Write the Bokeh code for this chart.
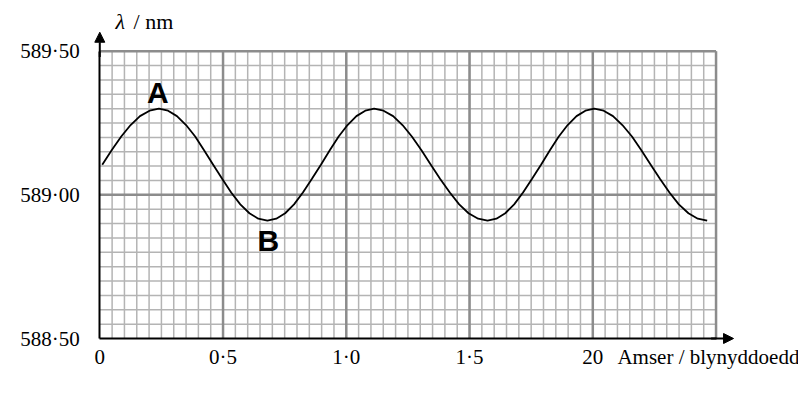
from bokeh.plotting import figure
from bokeh.models import FixedTicker, Label, Arrow, NormalHead
from bokeh.embed import file_html
from bokeh.resources import INLINE

# ---- data ----
years = [0.010, 0.048, 0.087, 0.125, 0.163, 0.202, 0.240,
         0.277, 0.313, 0.350, 0.387, 0.423, 0.460, 0.497, 0.533, 0.570, 0.607, 0.643, 0.680,
         0.716, 0.752, 0.788, 0.824, 0.860, 0.897, 0.933, 0.969, 1.005, 1.041, 1.077, 1.113,
         1.151, 1.190, 1.228, 1.266, 1.305, 1.343, 1.381, 1.420, 1.458, 1.496, 1.535, 1.573,
         1.609, 1.645, 1.681, 1.717, 1.753, 1.790, 1.826, 1.862, 1.898, 1.934, 1.970, 2.006,
         2.044, 2.082, 2.120, 2.159, 2.197, 2.235, 2.273, 2.311, 2.349, 2.388, 2.426, 2.464]
wavelength = [589.105, 589.155, 589.203, 589.243, 589.274, 589.293, 589.300,
              589.293, 589.274, 589.243, 589.203, 589.155, 589.105, 589.055, 589.008, 588.967, 588.936, 588.917, 588.910,
              588.917, 588.936, 588.967, 589.008, 589.055, 589.105, 589.155, 589.203, 589.243, 589.274, 589.293, 589.300,
              589.293, 589.274, 589.243, 589.203, 589.155, 589.105, 589.055, 589.008, 588.967, 588.936, 588.917, 588.910,
              588.917, 588.936, 588.967, 589.008, 589.055, 589.105, 589.155, 589.203, 589.243, 589.274, 589.293, 589.300,
              589.293, 589.274, 589.243, 589.203, 589.155, 589.105, 589.055, 589.008, 588.967, 588.936, 588.917, 588.910]

x_ticks = [0, 0.5, 1.0, 1.5, 2.0]
x_tick_labels = ["0", "0·5", "1·0", "1·5", "20"]
y_ticks = [588.5, 589.0, 589.5]
y_tick_labels = ["588·50", "589·00", "589·50"]
x_grid_major = [0.5, 1.0, 1.5, 2.0, 2.5]
x_grid_minor = [round(i * 0.05, 2) for i in range(1, 51)]
y_grid_major = [589.0, 589.5]
y_grid_minor = [round(588.5 + i * 0.05, 2) for i in range(1, 21)]
x_title = "Amser / blynyddoedd"
y_title_sym = "λ"
y_title_unit = "/ nm"
point_names = ["A", "B"]
peak_idx = 6
trough_idx = 18

X_MIN, X_MAX = 0.0, 2.5
Y_MIN, Y_MAX = 588.5, 589.5

serif = "Liberation Serif"

p = figure(width=798, height=390, x_range=(-0.4028, 2.8345), y_range=(588.319, 589.6765),
           output_backend="svg", toolbar_location=None,
           min_border_left=0, min_border_right=0, min_border_top=0, min_border_bottom=0)
p.background_fill_color = "white"
p.border_fill_color = "white"
p.outline_line_color = None
p.grid.visible = False

# paper grid
p.segment(x0=x_grid_minor, y0=[Y_MIN] * len(x_grid_minor), x1=x_grid_minor, y1=[Y_MAX] * len(x_grid_minor),
          line_color="#b4b4b4", line_width=1.5)
p.segment(x0=[X_MIN] * len(y_grid_minor), y0=y_grid_minor, x1=[X_MAX] * len(y_grid_minor), y1=y_grid_minor,
          line_color="#b4b4b4", line_width=1.5)
p.segment(x0=x_grid_major, y0=[Y_MIN] * len(x_grid_major), x1=x_grid_major, y1=[Y_MAX] * len(x_grid_major),
          line_color="#8c8c8c", line_width=2.5)
p.segment(x0=[X_MIN] * len(y_grid_major), y0=y_grid_major, x1=[X_MAX] * len(y_grid_major), y1=y_grid_major,
          line_color="#8c8c8c", line_width=2.5)

# axes at fixed positions
p.xaxis.fixed_location = Y_MIN
p.yaxis.fixed_location = X_MIN
p.xaxis.bounds = (X_MIN, X_MAX)
p.yaxis.bounds = (Y_MIN, Y_MAX)
p.xaxis.ticker = FixedTicker(ticks=x_ticks)
p.xaxis.major_label_overrides = {t: l for t, l in zip(x_ticks, x_tick_labels)}
p.yaxis.ticker = FixedTicker(ticks=y_ticks)
p.yaxis.major_label_overrides = {t: l for t, l in zip(y_ticks, y_tick_labels)}
for ax in (p.xaxis, p.yaxis):
    ax.axis_line_color = "black"
    ax.axis_line_width = 2
    ax.major_tick_line_color = None
    ax.minor_tick_line_color = None
    ax.major_tick_out = 0
    ax.major_tick_in = 0
    ax.major_label_text_font = serif
    ax.major_label_text_font_size = "21px"
    ax.major_label_text_color = "black"
p.xaxis.major_label_standoff = 6
p.yaxis.major_label_standoff = 20
p.yaxis.major_label_orientation = "horizontal"

# curve
p.line(years, wavelength, line_color="black", line_width=1.8)

# axis arrows
head = dict(size=10, fill_color="black", line_color="black")
p.add_layout(Arrow(x_start=X_MIN, y_start=Y_MAX - 0.02, x_end=X_MIN, y_end=589.566, line_width=2,
                   line_color="black", end=NormalHead(**head)))
p.add_layout(Arrow(x_start=X_MAX - 0.02, y_start=Y_MIN, x_end=2.571, y_end=Y_MIN, line_width=2,
                   line_color="black", end=NormalHead(**head)))

# titles
p.add_layout(Label(x=2.100, y=588.413, text=x_title, text_font=serif, text_font_size="21px",
                   text_baseline="alphabetic", text_align="left", text_color="black", y_offset=6))
p.add_layout(Label(x=0.064, y=589.5745, text=y_title_sym, text_font=serif, text_font_size="22px",
                   text_font_style="italic", text_baseline="alphabetic", text_align="left", text_color="black",
                   y_offset=8))
p.add_layout(Label(x=0.137, y=589.5745, text=y_title_unit, text_font=serif, text_font_size="22px",
                   text_baseline="alphabetic", text_align="left", text_color="black", y_offset=8))

# point labels
p.add_layout(Label(x=years[peak_idx], y=wavelength[peak_idx], text=point_names[0], text_font="Liberation Sans",
                   text_font_style="bold", text_font_size="30px", text_align="center",
                   text_baseline="alphabetic", x_offset=-1, y_offset=16, text_color="black"))
p.add_layout(Label(x=years[trough_idx], y=wavelength[trough_idx], text=point_names[1], text_font="Liberation Sans",
                   text_font_style="bold", text_font_size="30px", text_align="center",
                   text_baseline="alphabetic", x_offset=1, y_offset=-20, text_color="black"))

open("out.html", "w").write(file_html(p, INLINE))
